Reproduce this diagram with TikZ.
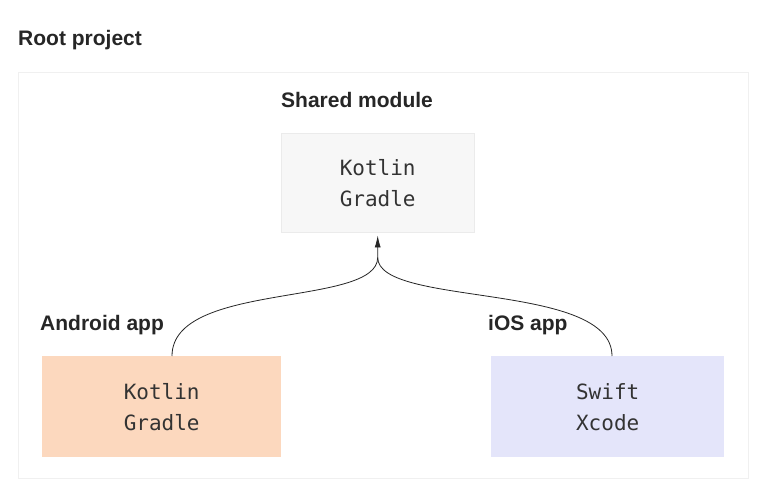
\documentclass[tikz,border=0pt]{standalone}
\usepackage{fontspec}
\usetikzlibrary{arrows.meta}
\setmainfont{Liberation Sans}
\setmonofont{DejaVu Sans Mono}
\begin{document}
\begin{tikzpicture}[x=1pt,y=-1pt,
  lbl/.style={font=\bfseries\fontsize{21}{24}\selectfont, text=black!85, anchor=west, inner sep=0},
  box/.style={font=\ttfamily\fontsize{21}{31}\selectfont, text=black!80, align=center, anchor=north west, inner sep=0},
  link/.style={draw=black!85, line width=0.8pt}]
\useasboundingbox (0,0) rectangle (768,500);
\fill[white] (0,0) rectangle (768,500);
\node[lbl] (root) at (18,40) {Root project};
\node[draw=black!6, line width=0.8pt, minimum width=730, minimum height=406, anchor=north west] (outer) at (18,72) {};
\node[lbl] (sharedl) at (281,100) {Shared module};
\node[box, fill=black!3, draw=black!8, minimum width=193, minimum height=99] (shared) at (281,133) {Kotlin\\Gradle};
\node[lbl] (andl) at (40,325) {Android app};
\node[box, fill={rgb,255:red,252;green,216;blue,190}, minimum width=239, minimum height=101] (android) at (42,356) {Kotlin\\Gradle};
\node[lbl] (iosl) at (488,325) {iOS app};
\node[box, fill={rgb,255:red,228;green,229;blue,250}, minimum width=233, minimum height=101] (ios) at (491,356) {Swift\\Xcode};
\coordinate (tip) at ([yshift=-3pt]shared.south);
\coordinate (mid) at ([yshift=-22pt]tip);
\draw[link] ([xshift=130pt]android.north west) .. controls +(0,-75) and +(0,50) .. (mid);
\draw[link,-{Latex[length=12pt,width=6pt]}] ([xshift=121pt]ios.north west) .. controls +(0,-75) and +(0,50) .. (mid) -- (tip);
\end{tikzpicture}
\end{document}
